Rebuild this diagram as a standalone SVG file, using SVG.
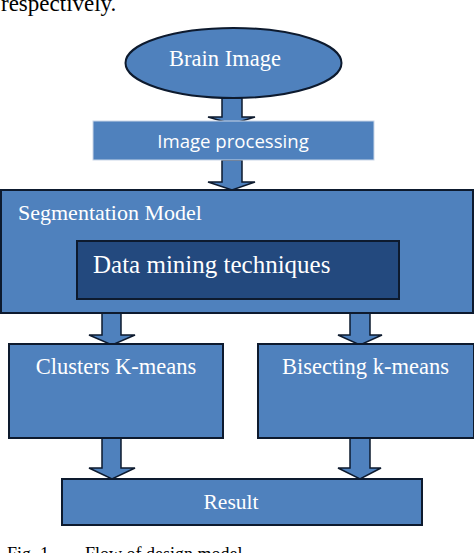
<svg xmlns="http://www.w3.org/2000/svg" width="474" height="553" viewBox="0 0 474 553">
<style>
.box{fill:#4f81bd;stroke:#0d1a2e;stroke-width:2}
.arr{fill:#4f81bd;stroke:#0d1a2e;stroke-width:1.5;stroke-linejoin:miter}
.t{font-family:"Liberation Serif","Times New Roman",serif;fill:#ffffff}
.s{font-family:"Open Sans","Noto Sans",sans-serif;fill:#ffffff}
.cap{font-family:"Liberation Serif","Times New Roman",serif;fill:#000000}
</style>
<rect width="474" height="553" fill="#ffffff"/>
<text class="cap" x="1" y="11" font-size="23">respectively.</text>
<text class="cap" x="7" y="560" font-size="18">Fig. 1.</text>
<text class="cap" x="85" y="560" font-size="18">Flow of design model</text>
<g id="connectors">
<path class="arr" d="M222,98 L242,98 L242,117 L255,117 L232,124 L208,117 L222,117 Z"/>
<path class="arr" d="M222,160 L242,160 L242,182 L255,182 L232,190 L208,182 L222,182 Z"/>
<path class="arr" d="M102,313 L121,313 L121,335 L135,335 L112,345 L89,335 L102,335 Z"/>
<path class="arr" d="M350,313 L370,313 L370,335 L382,335 L360,345 L338,335 L350,335 Z"/>
<path class="arr" d="M102,438 L121,438 L121,468 L135,468 L112,479 L89,468 L102,468 Z"/>
<path class="arr" d="M350,438 L370,438 L370,468 L381,468 L360,479 L338,468 L350,468 Z"/>
</g>
<g id="brain-image">
<ellipse class="box" cx="233.5" cy="63" rx="108" ry="35"/>
<text class="t" x="225" y="66" font-size="22.5" text-anchor="middle">Brain Image</text>
</g>
<g id="image-processing">
<rect x="93" y="121" width="281" height="39" fill="#4f81bd" stroke="#c9d6e8" stroke-width="1"/>
<text class="s" x="233" y="148" font-size="18.6" text-anchor="middle">Image processing</text>
</g>
<g id="segmentation-model">
<rect class="box" x="1" y="190" width="472" height="123"/>
<text class="t" x="18" y="220" font-size="22">Segmentation Model</text>
</g>
<g id="data-mining">
<rect x="77" y="241" width="322" height="58" fill="#23497e" stroke="#0d1a2e" stroke-width="2"/>
<text class="t" x="93" y="273" font-size="25">Data mining techniques</text>
</g>
<g id="clusters-kmeans">
<rect class="box" x="9" y="344" width="214" height="94"/>
<text class="t" x="116" y="374" font-size="22.5" text-anchor="middle">Clusters K-means</text>
</g>
<g id="bisecting-kmeans">
<rect class="box" x="258" y="344" width="216" height="94"/>
<text class="t" x="365.5" y="374" font-size="22.5" text-anchor="middle">Bisecting k-means</text>
</g>
<g id="result">
<rect class="box" x="62" y="479" width="360" height="46"/>
<text class="t" x="231" y="509" font-size="21.5" text-anchor="middle">Result</text>
</g>
</svg>
